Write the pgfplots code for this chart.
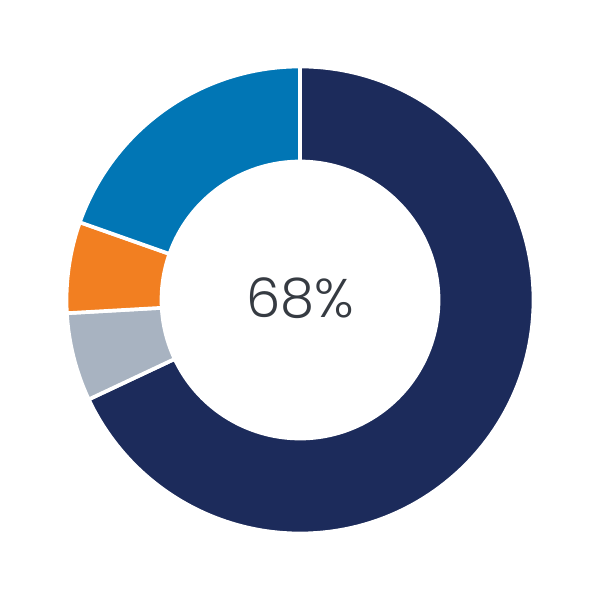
\documentclass[border=0pt]{standalone}
\usepackage{pgfplots}
\pgfplotsset{compat=1.18}
\usepackage{pgfplotstable}
\usepackage{fontspec}
\setmainfont{Poppins}[UprightFont={* Light}]
\definecolor{navyc}{HTML}{1C2B5B}
\definecolor{greyc}{HTML}{A8B3C1}
\definecolor{orangec}{HTML}{F27F21}
\definecolor{bluec}{HTML}{0176B5}
\definecolor{textc}{HTML}{363B42}
\pgfplotstableread{
label value color
Navy 68 navyc
Grey 6.1 greyc
Orange 6.3 orangec
Blue 19.6 bluec
}\donutdata
\begin{document}
\begin{tikzpicture}
\begin{axis}[x=1cm,y=1cm,xmin=-6,xmax=6,ymin=-6,ymax=6,hide axis,clip=false,scale only axis]
\path (axis cs:-6,-6) rectangle (axis cs:6,6);
\def\cum{0}
\def\Ro{4.67}
\def\Ri{2.77}
\pgfplotsforeachungrouped \i in {0,...,3}{%
  \pgfplotstablegetelem{\i}{value}\of\donutdata \let\v\pgfplotsretval
  \pgfplotstablegetelem{\i}{color}\of\donutdata \let\c\pgfplotsretval
  \pgfmathsetmacro\a{90-3.6*\cum}%
  \pgfmathsetmacro\b{90-3.6*(\cum+\v)}%
  \pgfmathsetmacro\xa{\Ro*cos(\a)}%
  \pgfmathsetmacro\ya{\Ro*sin(\a)}%
  \pgfmathsetmacro\xb{\Ri*cos(\b)}%
  \pgfmathsetmacro\yb{\Ri*sin(\b)}%
  \edef\temp{\noexpand\fill[\c,draw=white,line width=2.1pt,line join=miter] (axis cs:\xa,\ya) arc[start angle=\a,end angle=\b,radius=\Ro cm] -- (axis cs:\xb,\yb) arc[start angle=\b,end angle=\a,radius=\Ri cm] -- cycle;}%
  \temp
  \pgfmathsetmacro\cum{\cum+\v}%
  \xdef\cum{\cum}%
}
\node[text=textc,font=\fontsize{31}{31}\selectfont,inner sep=0pt] at (axis cs:0,0.03) {68\%};
\end{axis}
\end{tikzpicture}
\end{document}
